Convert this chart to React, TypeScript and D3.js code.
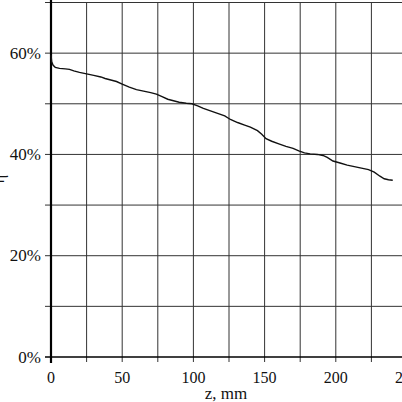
import React, { useEffect, useRef } from 'react';
import * as d3 from 'd3';

// z position along the sample, mm
const zValues = [
  0, 0.5, 1.5, 3, 6, 10, 13, 16, 20, 25, 30, 35, 38, 42, 46, 50, 55, 60, 65, 70,
  74, 78, 82, 86, 90, 95, 99, 103, 107, 112, 117, 122, 126, 131, 136, 140, 145,
  148, 151, 155, 160, 165, 170, 174, 178, 182, 187, 191, 194, 198, 203, 208, 213,
  218, 223, 227, 231, 234, 237, 240,
];

// measured value, %
const etaValues = [
  59.6, 58.3, 57.6, 57.2, 57.0, 56.9, 56.8, 56.5, 56.2, 55.9, 55.6, 55.3, 55.0,
  54.7, 54.4, 53.9, 53.3, 52.8, 52.5, 52.2, 51.9, 51.4, 50.9, 50.6, 50.3, 50.1,
  50.0, 49.6, 49.1, 48.6, 48.1, 47.6, 46.9, 46.3, 45.8, 45.4, 44.7, 44.0, 43.1,
  42.6, 42.1, 41.6, 41.2, 40.7, 40.3, 40.1, 40.0, 39.8, 39.4, 38.7, 38.3, 37.9,
  37.6, 37.3, 37.0, 36.5, 35.7, 35.2, 35.0, 34.9,
];

const xTickLabels = [0, 50, 100, 150, 200, 250];
const yTickLabels = [0, 20, 40, 60];
const xGrid = d3.range(0, 251, 25);
const yGrid = d3.range(0, 71, 10);

const FONT = "'Liberation Serif', 'Times New Roman', serif";

const App: React.FC = () => {
  const svgRef = useRef<SVGSVGElement>(null);

  useEffect(() => {
    if (!svgRef.current) return;
    const width = 402;
    const height = 402;

    const svg = d3.select(svgRef.current)
      .attr('width', width)
      .attr('height', height);
    svg.selectAll('*').remove();

    const x = d3.scaleLinear().domain([0, 250]).range([51, 407]);
    const y = d3.scaleLinear().domain([0, 70]).range([357, 2.5]);

    svg.append('rect').attr('width', width).attr('height', height).attr('fill', '#fff');

    // grid
    svg.append('g').selectAll('line')
      .data(xGrid.slice(1))
      .enter().append('line')
      .attr('x1', d => x(d)).attr('x2', d => x(d))
      .attr('y1', y(70)).attr('y2', y(0) + 5)
      .attr('stroke', '#333').attr('stroke-width', 1);

    svg.append('g').selectAll('line')
      .data(yGrid.slice(1))
      .enter().append('line')
      .attr('x1', x(0) - 6).attr('x2', width)
      .attr('y1', d => y(d)).attr('y2', d => y(d))
      .attr('stroke', '#333').attr('stroke-width', 1);

    // axes
    svg.append('line')
      .attr('x1', x(0) - 6).attr('x2', width)
      .attr('y1', y(0)).attr('y2', y(0))
      .attr('stroke', '#000').attr('stroke-width', 1.5);
    svg.append('line')
      .attr('x1', x(0)).attr('x2', x(0))
      .attr('y1', 0).attr('y2', y(0) + 6)
      .attr('stroke', '#000').attr('stroke-width', 2.2);

    const labels = svg.append('g')
      .style('font-family', FONT)
      .style('font-size', '16px')
      .attr('fill', '#111');

    // tick labels
    labels.append('g').selectAll('text')
      .data(xTickLabels)
      .enter().append('text')
      .attr('x', d => x(d)).attr('y', 383)
      .attr('text-anchor', 'middle')
      .text(d => String(d));

    labels.append('g').selectAll('text')
      .data(yTickLabels)
      .enter().append('text')
      .attr('x', 41).attr('y', d => y(d))
      .attr('dy', '0.33em')
      .attr('text-anchor', 'end')
      .style('font-size', '17px')
      .text(d => `${d}%`);

    labels.append('text')
      .attr('x', 226).attr('y', 399)
      .attr('text-anchor', 'middle')
      .style('font-size', '17px')
      .text('z, mm');

    labels.append('text')
      .attr('transform', 'translate(4,179) rotate(-90)')
      .attr('text-anchor', 'middle')
      .text('η');

    // curve
    const points = zValues.map((z, i) => [z, etaValues[i]] as [number, number]);
    const line = d3.line<[number, number]>()
      .x(d => x(d[0]))
      .y(d => y(d[1]));
    svg.append('path')
      .datum(points)
      .attr('d', line)
      .attr('fill', 'none')
      .attr('stroke', '#111')
      .attr('stroke-width', 1.4);
  }, []);

  return (
    <div style={{ position: 'fixed', left: 0, top: 0, width: 402, height: 402, overflow: 'hidden', background: '#fff' }}>
      <svg ref={svgRef} style={{ display: 'block' }} />
    </div>
  );
};

export default App;
